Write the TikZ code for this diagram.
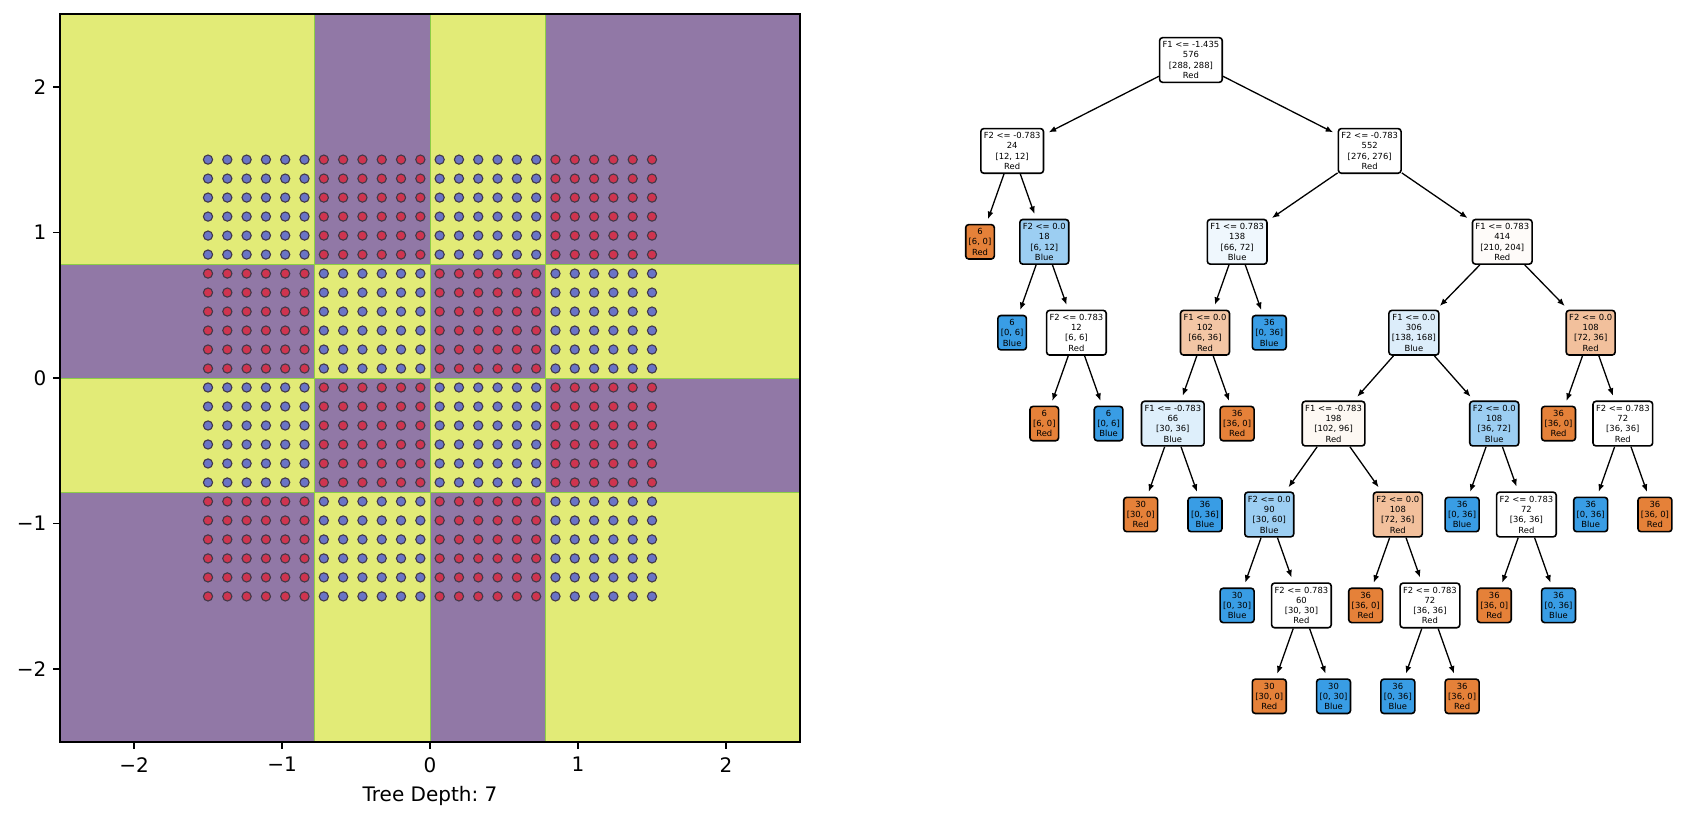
\documentclass[tikz,border=0pt]{standalone}
\usepackage{fontspec}
\setmainfont{DejaVu Sans}
\usepackage{xcolor}
\usepackage{tikz}
\usetikzlibrary{arrows.meta}
\frenchspacing

\definecolor{regionyellow}{RGB}{226,235,119}
\definecolor{regionpurple}{RGB}{145,120,166}
\definecolor{boundarygreen}{RGB}{140,205,70}
\definecolor{pointblue}{RGB}{106,116,198}
\definecolor{pointred}{RGB}{207,52,79}
\definecolor{pointedge}{RGB}{66,56,72}
\definecolor{leafred}{RGB}{229,129,57}
\definecolor{leafblue}{RGB}{57,157,229}
\definecolor{blue50}{RGB}{156,206,242}
\definecolor{red50}{RGB}{242,192,156}
\definecolor{blue18}{RGB}{220,237,250}
\definecolor{blue17}{RGB}{222,239,251}
\definecolor{blue08}{RGB}{239,247,253}
\definecolor{red45}{RGB}{243,198,165}
\definecolor{red06}{RGB}{253,248,243}
\definecolor{red03}{RGB}{254,251,249}

\tikzset{tree-node/.style={draw, rounded corners=3pt, line width=1.6pt, align=center, inner xsep=3pt, inner ysep=3.7pt, fill=white, font=\fontsize{8.4}{10.3}\selectfont}}
\tikzset{leaf-red/.style={tree-node, fill=leafred}}
\tikzset{leaf-blue/.style={tree-node, fill=leafblue}}
\tikzset{tree-arrow/.style={->, line width=1.3pt, shorten >=5pt}}
\tikzset{sample-dot/.style={draw=pointedge, line width=1.1pt}}
\tikzset{boundary/.style={draw=boundarygreen, line width=1pt}}
\tikzset{spine/.style={line width=1.5pt}}
\tikzset{tick/.style={line width=1.5pt}}
\tikzset{tick-label/.style={inner sep=0pt, font=\fontsize{20}{24}\selectfont}}
\tikzset{>={Latex[length=7.5pt, width=6pt]}}

\begin{document}
\begin{tikzpicture}[x=1pt, y=-1pt]
    \useasboundingbox (0,0) rectangle (1702,820);
    \fill[white] (0,0) rectangle (1702,820);

    % decision surface
    \begin{scope}[xshift=430pt, yshift=-378pt, x=148pt, y=145.6pt]
        \foreach \xa/\xb [count=\ci] in {-2.5/-0.783, -0.783/0, 0/0.783, 0.783/2.5}
            \foreach \ya/\yb [count=\cj] in {-2.5/-0.783, -0.783/0, 0/0.783, 0.783/2.5} {
                \pgfmathtruncatemacro\cls{mod(\ci+\cj,2)}
                \ifnum\cls=1 \def\regcolor{regionyellow}\else \def\regcolor{regionpurple}\fi
                \fill[fill=\regcolor] (\xa,\ya) rectangle (\xb,\yb);
            }
        \foreach \v in {-0.783, 0, 0.783} {
            \draw[boundary] (\v,-2.5) -- (\v,2.5);
            \draw[boundary] (-2.5,\v) -- (2.5,\v);
        }
        \foreach \i in {0,...,23}
            \foreach \j in {0,...,23} {
                \pgfmathtruncatemacro\cls{mod(int(\i/6)+int(\j/6),2)}
                \ifnum\cls=1 \def\dotcolor{pointblue}\else \def\dotcolor{pointred}\fi
                \filldraw[sample-dot, fill=\dotcolor] ({-1.5+\i*3/23},{-1.5+\j*3/23}) circle (4.6pt);
            }
        \draw[spine] (-2.5,-2.5) rectangle (2.5,2.5);
        \foreach \t/\lab in {-2/−2, -1/−1, 0/0, 1/1, 2/2} {
            \draw[tick] (\t,-2.5) -- ++(0,-7pt) node[tick-label, below=7.5pt] (xtick\t) {\lab};
            \draw[tick] (-2.5,\t) -- ++(-7pt,0) node[tick-label, left=6pt] (ytick\t) {\lab};
        }
        \node[tick-label, below=44.5pt] (xlabel) at (0,-2.5) {Tree Depth: 7};
    \end{scope}

    % fitted tree
    \begin{scope}[xshift=980pt, yshift=-60pt, x=32.14pt, y=-90.9pt]
        \node[tree-node] (root) at (6.5625,0) {F1 <= -1.435\\576\\{[288, 288]}\\Red};

        \node[tree-node] (s24) at (1,1) {F2 <= -0.783\\24\\{[12, 12]}\\Red};
        \node[tree-node] (s552) at (12.125,1) {F2 <= -0.783\\552\\{[276, 276]}\\Red};

        \node[leaf-red] (l1) at (0,2) {6\\{[6, 0]}\\Red};
        \node[tree-node, fill=blue50] (s18) at (2,2) {F2 <= 0.0\\18\\{[6, 12]}\\Blue};
        \node[tree-node, fill=blue08] (s138) at (8,2) {F1 <= 0.783\\138\\{[66, 72]}\\Blue};
        \node[tree-node, fill=red03] (s414) at (16.25,2) {F1 <= 0.783\\414\\{[210, 204]}\\Red};

        \node[leaf-blue] (l2) at (1,3) {6\\{[0, 6]}\\Blue};
        \node[tree-node] (s12) at (3,3) {F2 <= 0.783\\12\\{[6, 6]}\\Red};
        \node[tree-node, fill=red45] (s102) at (7,3) {F1 <= 0.0\\102\\{[66, 36]}\\Red};
        \node[leaf-blue] (l3) at (9,3) {36\\{[0, 36]}\\Blue};
        \node[tree-node, fill=blue18] (s306) at (13.5,3) {F1 <= 0.0\\306\\{[138, 168]}\\Blue};
        \node[tree-node, fill=red50] (s108a) at (19,3) {F2 <= 0.0\\108\\{[72, 36]}\\Red};

        \node[leaf-red] (l4) at (2,4) {6\\{[6, 0]}\\Red};
        \node[leaf-blue] (l5) at (4,4) {6\\{[0, 6]}\\Blue};
        \node[tree-node, fill=blue17] (s66) at (6,4) {F1 <= -0.783\\66\\{[30, 36]}\\Blue};
        \node[leaf-red] (l6) at (8,4) {36\\{[36, 0]}\\Red};
        \node[tree-node, fill=red06] (s198) at (11,4) {F1 <= -0.783\\198\\{[102, 96]}\\Red};
        \node[tree-node, fill=blue50] (s108b) at (16,4) {F2 <= 0.0\\108\\{[36, 72]}\\Blue};
        \node[leaf-red] (l7) at (18,4) {36\\{[36, 0]}\\Red};
        \node[tree-node] (s72a) at (20,4) {F2 <= 0.783\\72\\{[36, 36]}\\Red};

        \node[leaf-red] (l8) at (5,5) {30\\{[30, 0]}\\Red};
        \node[leaf-blue] (l9) at (7,5) {36\\{[0, 36]}\\Blue};
        \node[tree-node, fill=blue50] (s90) at (9,5) {F2 <= 0.0\\90\\{[30, 60]}\\Blue};
        \node[tree-node, fill=red50] (s108c) at (13,5) {F2 <= 0.0\\108\\{[72, 36]}\\Red};
        \node[leaf-blue] (l10) at (15,5) {36\\{[0, 36]}\\Blue};
        \node[tree-node] (s72b) at (17,5) {F2 <= 0.783\\72\\{[36, 36]}\\Red};
        \node[leaf-blue] (l11) at (19,5) {36\\{[0, 36]}\\Blue};
        \node[leaf-red] (l12) at (21,5) {36\\{[36, 0]}\\Red};

        \node[leaf-blue] (l13) at (8,6) {30\\{[0, 30]}\\Blue};
        \node[tree-node] (s60) at (10,6) {F2 <= 0.783\\60\\{[30, 30]}\\Red};
        \node[leaf-red] (l14) at (12,6) {36\\{[36, 0]}\\Red};
        \node[tree-node] (s72c) at (14,6) {F2 <= 0.783\\72\\{[36, 36]}\\Red};
        \node[leaf-red] (l15) at (16,6) {36\\{[36, 0]}\\Red};
        \node[leaf-blue] (l16) at (18,6) {36\\{[0, 36]}\\Blue};

        \node[leaf-red] (l17) at (9,7) {30\\{[30, 0]}\\Red};
        \node[leaf-blue] (l18) at (11,7) {30\\{[0, 30]}\\Blue};
        \node[leaf-blue] (l19) at (13,7) {36\\{[0, 36]}\\Blue};
        \node[leaf-red] (l20) at (15,7) {36\\{[36, 0]}\\Red};

        \foreach \a/\b in {root/s24, root/s552, s24/l1, s24/s18, s18/l2, s18/s12,
                s12/l4, s12/l5, s552/s138, s552/s414, s138/s102, s138/l3,
                s102/s66, s102/l6, s66/l8, s66/l9, s414/s306, s414/s108a,
                s306/s198, s306/s108b, s198/s90, s198/s108c, s90/l13, s90/s60,
                s60/l17, s60/l18, s108c/l14, s108c/s72c, s72c/l19, s72c/l20,
                s108b/l10, s108b/s72b, s72b/l15, s72b/l16, s108a/l7, s108a/s72a,
                s72a/l11, s72a/l12}
            \draw[tree-arrow] (\a) -- (\b);
    \end{scope}
\end{tikzpicture}
\end{document}
